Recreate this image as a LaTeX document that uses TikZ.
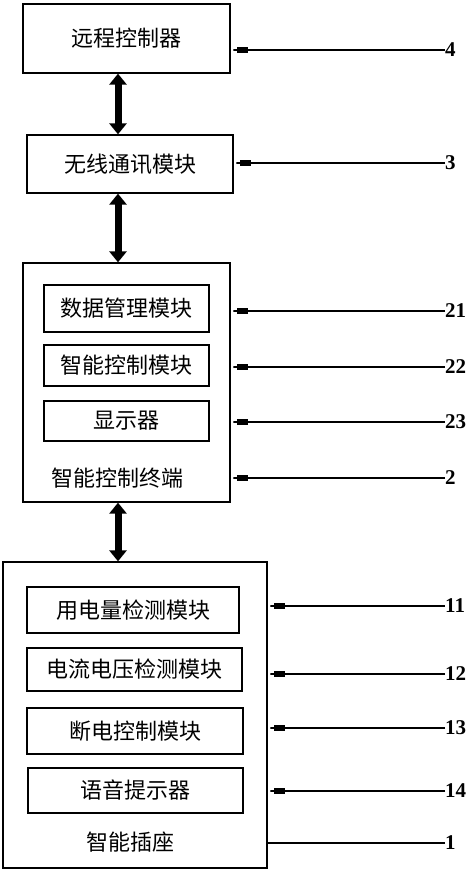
\documentclass[tikz,border=0pt]{standalone}
\usepackage{fontspec}
\newfontfamily\cjk{Noto Sans CJK SC}
\setmainfont{Liberation Serif}
\usetikzlibrary{arrows.meta, positioning}

\begin{document}
\begin{tikzpicture}[x=1pt, y=-1pt,
    box/.style={draw, line width=1.3pt, inner sep=0pt,
                font=\cjk\fontsize{22}{24}\selectfont},
    boxcap/.style={inner sep=0pt, font=\cjk\fontsize{22}{24}\selectfont},
    num/.style={anchor=west, inner sep=0pt,
                font=\bfseries\fontsize{21}{22}\selectfont},
    lead/.style={line width=1.3pt,
                 -{Rectangle[length=11pt,width=6pt]Rectangle[length=4pt,width=1.3pt]},
                 shorten >=2pt},
    bus/.style={line width=7pt,
                {Triangle[length=11pt,width=17pt]}-{Triangle[length=11pt,width=17pt]}}]
  \useasboundingbox (0,0) rectangle (474,872);

  % upper blocks
  \node[box, minimum width=207, minimum height=69] (remote) at (126.5,38.5) {远程控制器};
  \node[box, minimum width=206, minimum height=58] (wireless) at (130,164) {无线通讯模块};

  % smart control terminal
  \node[box, minimum width=207, minimum height=239] (terminal) at (126.5,382.5) {};
  \node[box, minimum width=165, minimum height=47] (datamgr) at (126.5,308.5) {数据管理模块};
  \node[box, minimum width=165, minimum height=41] (smartctl) at (126.5,365.5) {智能控制模块};
  \node[box, minimum width=165, minimum height=40] (display) at (126.5,421) {显示器};
  \node[boxcap] (terminalcap) at (117,478) {智能控制终端};

  % smart socket
  \node[box, minimum width=264, minimum height=306] (socket) at (135,715) {};
  \node[box, minimum width=212, minimum height=46] (energy) at (133,610) {用电量检测模块};
  \node[box, minimum width=215, minimum height=43] (curvolt) at (134.5,669.5) {电流电压检测模块};
  \node[box, minimum width=216, minimum height=46] (cutoff) at (135,731) {断电控制模块};
  \node[box, minimum width=215, minimum height=45] (voice) at (135.5,790.5) {语音提示器};
  \node[boxcap] (socketcap) at (130,842) {智能插座};

  % buses between blocks
  \draw[bus] (remote.south -| 118,0) -- (wireless.north -| 118,0);
  \draw[bus] (wireless.south -| 118,0) -- (terminal.north -| 118,0);
  \draw[bus] (terminal.south -| 118,0) -- (socket.north -| 118,0);

  % reference numerals
  \foreach \n/\y/\b in {4/50/remote, 3/163/wireless, 21/311/terminal, 22/367/terminal,
                        23/422/terminal, 2/478/terminal, 11/606/socket, 12/674/socket,
                        13/728/socket, 14/791/socket}{
    \node[num] (n\n) at (445,\y) {\n};
    \draw[lead] (n\n.west) -- (n\n.west -| \b.east);
  }
  \node[num] (n1) at (445,843) {1};
  \draw[line width=1.3pt] (n1.west) -- (n1.west -| socket.east);
\end{tikzpicture}
\end{document}
